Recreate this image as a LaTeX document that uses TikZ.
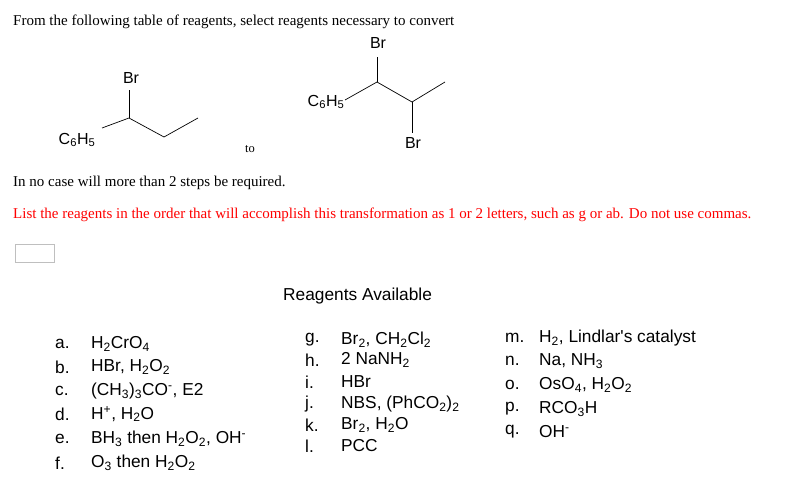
\documentclass[tikz,border=0pt]{standalone}
\usepackage{fontspec}
\setmainfont{Liberation Serif}
\newfontfamily\arial{Liberation Sans}
\newcommand\sbs[1]{\textsubscript{#1}}
\newcommand\sps[1]{\textsuperscript{#1}}
\begin{document}
\begin{tikzpicture}[x=1pt,y=-1pt,
  ser/.style={anchor=west,inner sep=0pt,font=\fontsize{15}{17}\selectfont},
  lab/.style={inner sep=0pt,font=\arial\fontsize{16}{18}\selectfont},
  it/.style={anchor=west,inner sep=0pt,font=\arial\fontsize{17.3}{19}\selectfont},
  bond/.style={line width=0.7pt}]
\useasboundingbox[fill=white] (0,0) rectangle (787,497);
\node[ser] (t1) at (13,22) {From the following table of reagents, select reagents necessary to convert};
\node[ser] (t2) at (13,183) {In no case will more than 2 steps be required.};
\node[ser,text=red] (t3) at (13,215) {List the reagents in the order that will accomplish this transformation as 1 or 2 letters, such as g or ab. Do not use commas.};
\node[ser,font=\fontsize{12.5}{14}\selectfont] (to) at (245,149) {to};
\node[draw=black!25,minimum width=39pt,minimum height=18pt,inner sep=0pt] (box) at (34.5,253) {};
% molecule 1
\coordinate (a1) at (102,128); \coordinate (a2) at (129,118);
\coordinate (a3) at (164,137); \coordinate (a4) at (198,118);
\node[lab] (br1) at (131,78) {Br};
\node[lab] (ph1) at (77,140) {C\sbs{6}H\sbs{5}};
\draw[bond] (a1)--(a2)--(a3)--(a4); \draw[bond] (a2)--(129,90);
% molecule 2
\coordinate (b1) at (345,100); \coordinate (b2) at (377,82);
\coordinate (b3) at (412,102); \coordinate (b4) at (445,82);
\node[lab] (br2) at (378,43) {Br};
\node[lab] (br3) at (413,143) {Br};
\node[lab] (ph2) at (326,102) {C\sbs{6}H\sbs{5}};
\draw[bond] (b1)--(b2)--(b3)--(b4); \draw[bond] (b2)--(377,57); \draw[bond] (b3)--(412,133);
\node[it] (hd) at (283,296) {Reagents Available};
\foreach \l/\t/\y in {a./{H\sbs{2}CrO\sbs{4}}/344, b./{HBr, H\sbs{2}O\sbs{2}}/367, c./{(CH\sbs{3})\sbs{3}CO\sps{-}, E2}/391, d./{H\sps{+}, H\sbs{2}O}/414, e./{BH\sbs{3} then H\sbs{2}O\sbs{2}, OH\sps{-}}/439, f./{O\sbs{3} then H\sbs{2}O\sbs{2}}/463}
  {\node[it] at (55,\y) {\l}; \node[it] at (91,\y) {\t};}
\foreach \l/\t/\y in {g./{Br\sbs{2}, CH\sbs{2}Cl\sbs{2}}/340, h./{2 NaNH\sbs{2}}/360, i./{HBr}/382, j./{NBS, (PhCO\sbs{2})\sbs{2}}/404, k./{Br\sbs{2}, H\sbs{2}O}/425, l./{PCC}/446}
  {\node[it] at (305,\y) {\l}; \node[it] at (341,\y) {\t};}
\foreach \l/\t/\y in {m./{H\sbs{2}, Lindlar's catalyst}/338, n./{Na, NH\sbs{3}}/361, o./{OsO\sbs{4}, H\sbs{2}O\sbs{2}}/385, p./{RCO\sbs{3}H}/409, q./{OH\sps{-}}/432}
  {\node[it] at (505,\y) {\l}; \node[it] at (539,\y) {\t};}
\end{tikzpicture}
\end{document}
